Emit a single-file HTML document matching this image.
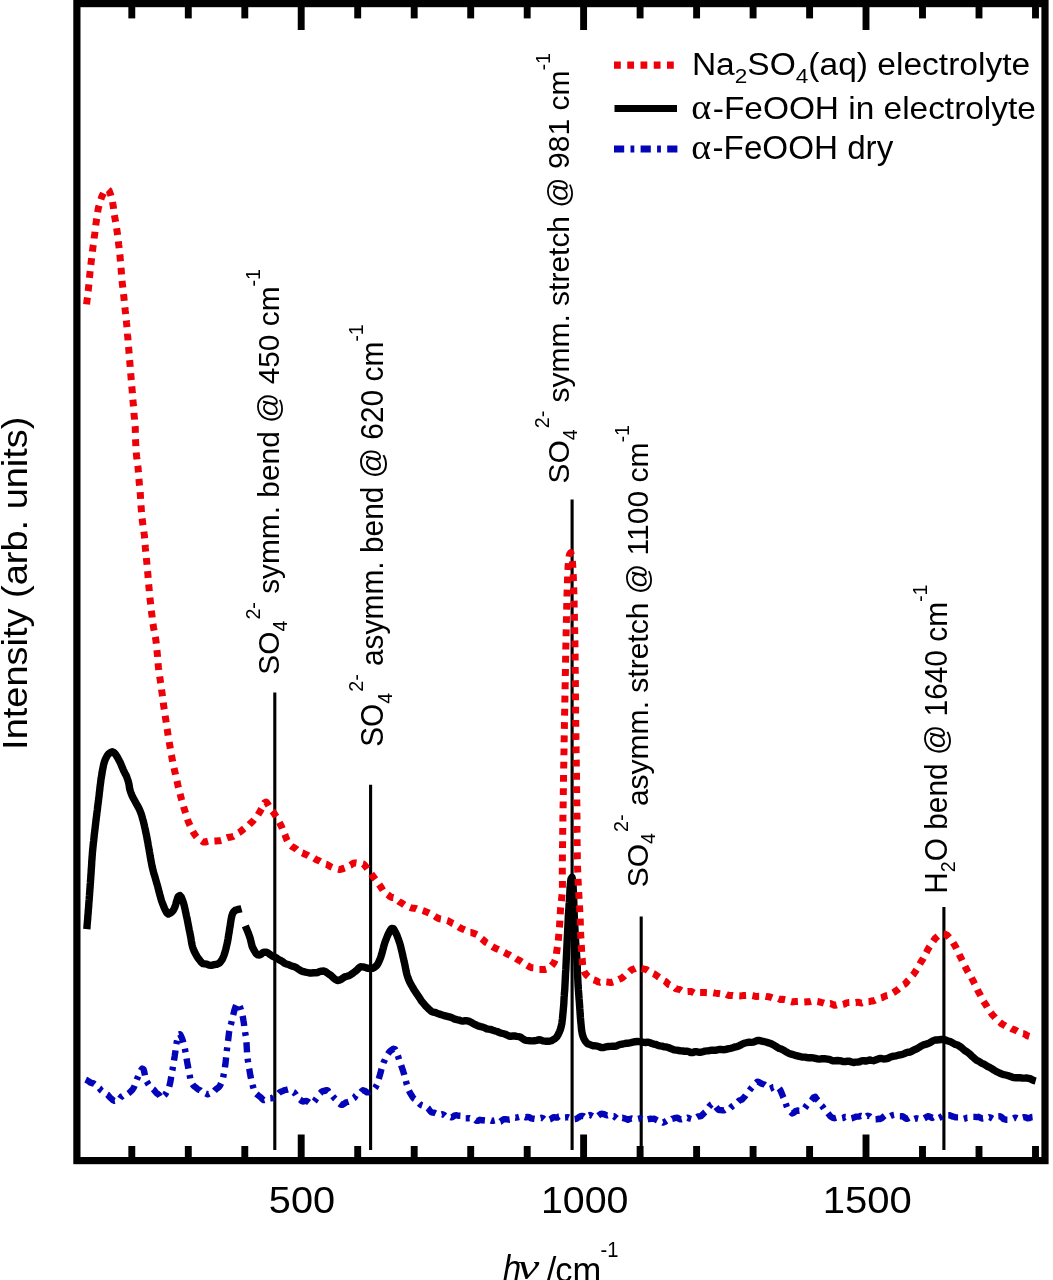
<!DOCTYPE html>
<html><head><meta charset="utf-8"><title>Raman spectra</title>
<style>
html,body{margin:0;padding:0;background:#fff;width:1053px;height:1280px;overflow:hidden}
svg{display:block}
text{font-family:"Liberation Sans",Arial,sans-serif;fill:#000}
.al{font-family:"Liberation Serif","DejaVu Serif",serif}
.ng{font-family:"Liberation Sans",Arial,sans-serif}
</style></head>
<body>
<svg width="1053" height="1280" viewBox="0 0 1053 1280">
<rect width="1053" height="1280" fill="#fff"/>
<rect x="76.9" y="3.6" width="968.1" height="1157" fill="none" stroke="#000" stroke-width="7.2"/>
<line x1="131.8" y1="1158" x2="131.8" y2="1146" stroke="#000" stroke-width="6.9"/>
<line x1="131.8" y1="5" x2="131.8" y2="18.4" stroke="#000" stroke-width="6.9"/>
<line x1="188.3" y1="1158" x2="188.3" y2="1146" stroke="#000" stroke-width="6.9"/>
<line x1="188.3" y1="5" x2="188.3" y2="18.4" stroke="#000" stroke-width="6.9"/>
<line x1="244.8" y1="1158" x2="244.8" y2="1146" stroke="#000" stroke-width="6.9"/>
<line x1="244.8" y1="5" x2="244.8" y2="18.4" stroke="#000" stroke-width="6.9"/>
<line x1="301.2" y1="1158" x2="301.2" y2="1134.5" stroke="#000" stroke-width="6.9"/>
<line x1="301.2" y1="5" x2="301.2" y2="30" stroke="#000" stroke-width="6.9"/>
<line x1="357.7" y1="1158" x2="357.7" y2="1146" stroke="#000" stroke-width="6.9"/>
<line x1="357.7" y1="5" x2="357.7" y2="18.4" stroke="#000" stroke-width="6.9"/>
<line x1="414.2" y1="1158" x2="414.2" y2="1146" stroke="#000" stroke-width="6.9"/>
<line x1="414.2" y1="5" x2="414.2" y2="18.4" stroke="#000" stroke-width="6.9"/>
<line x1="470.7" y1="1158" x2="470.7" y2="1146" stroke="#000" stroke-width="6.9"/>
<line x1="470.7" y1="5" x2="470.7" y2="18.4" stroke="#000" stroke-width="6.9"/>
<line x1="527.2" y1="1158" x2="527.2" y2="1146" stroke="#000" stroke-width="6.9"/>
<line x1="527.2" y1="5" x2="527.2" y2="18.4" stroke="#000" stroke-width="6.9"/>
<line x1="583.6" y1="1158" x2="583.6" y2="1134.5" stroke="#000" stroke-width="6.9"/>
<line x1="583.6" y1="5" x2="583.6" y2="30" stroke="#000" stroke-width="6.9"/>
<line x1="640.1" y1="1158" x2="640.1" y2="1146" stroke="#000" stroke-width="6.9"/>
<line x1="640.1" y1="5" x2="640.1" y2="18.4" stroke="#000" stroke-width="6.9"/>
<line x1="696.6" y1="1158" x2="696.6" y2="1146" stroke="#000" stroke-width="6.9"/>
<line x1="696.6" y1="5" x2="696.6" y2="18.4" stroke="#000" stroke-width="6.9"/>
<line x1="753.1" y1="1158" x2="753.1" y2="1146" stroke="#000" stroke-width="6.9"/>
<line x1="753.1" y1="5" x2="753.1" y2="18.4" stroke="#000" stroke-width="6.9"/>
<line x1="809.6" y1="1158" x2="809.6" y2="1146" stroke="#000" stroke-width="6.9"/>
<line x1="809.6" y1="5" x2="809.6" y2="18.4" stroke="#000" stroke-width="6.9"/>
<line x1="866.0" y1="1158" x2="866.0" y2="1134.5" stroke="#000" stroke-width="6.9"/>
<line x1="866.0" y1="5" x2="866.0" y2="30" stroke="#000" stroke-width="6.9"/>
<line x1="922.5" y1="1158" x2="922.5" y2="1146" stroke="#000" stroke-width="6.9"/>
<line x1="922.5" y1="5" x2="922.5" y2="18.4" stroke="#000" stroke-width="6.9"/>
<line x1="979.0" y1="1158" x2="979.0" y2="1146" stroke="#000" stroke-width="6.9"/>
<line x1="979.0" y1="5" x2="979.0" y2="18.4" stroke="#000" stroke-width="6.9"/>
<line x1="1035.5" y1="1158" x2="1035.5" y2="1146" stroke="#000" stroke-width="6.9"/>
<line x1="1035.5" y1="5" x2="1035.5" y2="18.4" stroke="#000" stroke-width="6.9"/>
<g transform="matrix(1.1035 0 0 1.0231 -31.46 -28.32)"><text id="t500" class="ng" x="302.2" y="1213.5" font-size="36" text-anchor="middle">500</text></g>
<g transform="matrix(1.0934 0 0 1.0231 -58.18 -28.52)"><text id="t1000" class="ng" x="588" y="1213.5" font-size="36" text-anchor="middle">1000</text></g>
<g transform="matrix(1.1118 0 0 1.0115 -98.04 -14.41)"><text id="t1500" class="ng" x="868.2" y="1213.5" font-size="36" text-anchor="middle">1500</text></g>
<g transform="matrix(1.0000 0 0 1.0697 0.00 -49.16)"><text id="ylab" class="ng" transform="translate(27,747) rotate(-90)" font-size="35.5">Intensity (arb. units)</text></g>
<g transform="matrix(0.9059 0 0 1.0000 47.44 0.10)"><text id="xl_h" x="503" y="1280.4" font-size="36" font-style="italic">h</text></g>
<g transform="matrix(1.3667 0 0 1.0000 -193.23 -1.00)"><text id="xl_nu" class="al" x="520" y="1280.4" font-size="36" font-style="italic">&#957;</text></g>
<g transform="matrix(0.9800 0 0 1.0000 14.36 1.40)"><text id="xl_sl" x="543" y="1280.4" font-size="36">/</text></g>
<g transform="matrix(0.9591 0 0 1.0000 20.97 1.30)"><text id="xl_cm" x="557" y="1280.4" font-size="36">cm</text></g>
<g transform="matrix(0.9176 0 0 1.0400 49.08 -50.18)"><text id="xl_sup" x="601" y="1257.1" font-size="22">-1</text></g>
<line x1="274.8" y1="692.4" x2="274.8" y2="1150" stroke="#000" stroke-width="3.1"/>
<line x1="370.6" y1="784.8" x2="370.6" y2="1150" stroke="#000" stroke-width="3.1"/>
<line x1="572.1" y1="499.5" x2="572.1" y2="1150" stroke="#000" stroke-width="3.1"/>
<line x1="641.2" y1="916.5" x2="641.2" y2="1150" stroke="#000" stroke-width="3.1"/>
<line x1="943.9" y1="907" x2="943.9" y2="1150" stroke="#000" stroke-width="3.1"/>
<g transform="matrix(1.0333 0 0 1.0301 -11.73 -18.30)"><text id="a450" transform="translate(281.5,672.7) rotate(-90)" font-size="29">SO<tspan font-size="19" dy="7.6">4</tspan><tspan font-size="19" dx="1" dy="-26.6">2-</tspan><tspan dy="19"> symm. bend @ 450 cm</tspan><tspan font-size="19" dy="-18.5">-1</tspan></text></g>
<g transform="matrix(1.0859 0 0 1.0311 -33.49 -22.79)"><text id="a620" transform="translate(383.8,746.4) rotate(-90)" font-size="29">SO<tspan font-size="19" dy="7.6">4</tspan><tspan font-size="19" dx="1" dy="-26.6">2-</tspan><tspan dy="19"> asymm. bend @ 620 cm</tspan><tspan font-size="19" dy="-18.5">-1</tspan></text></g>
<g transform="matrix(1.0325 0 0 1.0341 -20.62 -15.18)"><text id="a981" transform="translate(571,482.3) rotate(-90)" font-size="29">SO<tspan font-size="19" dy="7.6">4</tspan><tspan font-size="19" dx="1" dy="-26.6">2-</tspan><tspan dy="19"> symm. stretch @ 981 cm</tspan><tspan font-size="19" dy="-18.5">-1</tspan></text></g>
<g transform="matrix(1.0300 0 0 1.0354 -22.87 -29.66)"><text id="a1100" transform="translate(651,885.6) rotate(-90)" font-size="29">SO<tspan font-size="19" dy="7.6">4</tspan><tspan font-size="19" dx="1" dy="-26.6">2-</tspan><tspan dy="19"> asymm. stretch @ 1100 cm</tspan><tspan font-size="19" dy="-18.5">-1</tspan></text></g>
<g transform="matrix(1.0846 0 0 1.0302 -79.32 -25.18)"><text id="a1640" transform="translate(946.4,892) rotate(-90)" font-size="29">H<tspan font-size="19" dy="7.6">2</tspan><tspan dy="-7.6">O bend @ 1640 cm</tspan><tspan font-size="19" dy="-18.5">-1</tspan></text></g>
<line x1="614" y1="65.2" x2="675" y2="65.2" stroke="#ee0008" stroke-width="7.2" stroke-dasharray="6.8 6.45"/>
<line x1="614.5" y1="108.5" x2="677" y2="108.5" stroke="#000" stroke-width="7"/>
<line x1="614" y1="149" x2="678" y2="149" stroke="#0404b8" stroke-width="7.2" stroke-dasharray="10.2 6.3 3.8 6.3"/>
<g transform="matrix(1.1571 0 0 1.0633 -111.14 -5.06)"><text id="lg1" x="694" y="75.1" font-size="29">Na<tspan font-size="19.5" dy="7.6">2</tspan><tspan dy="-7.6">SO</tspan><tspan font-size="19.5" dy="7.6">4</tspan><tspan dy="-7.6">(aq) electrolyte</tspan></text></g>
<g transform="matrix(1.1529 0 0 1.1000 -106.93 -10.60)"><text id="lg2" x="692.3" y="117.9" font-size="29"><tspan class="al" font-size="33">&#945;</tspan><tspan dx="1.4">-FeOOH in electrolyte</tspan></text></g>
<g transform="matrix(1.1443 0 0 1.1143 -101.01 -15.43)"><text id="lg3" x="692.3" y="156.8" font-size="29"><tspan class="al" font-size="33">&#945;</tspan><tspan dx="1.4">-FeOOH dry</tspan></text></g>
<path d="M85.7,1079.7 L87.2,1080.4 L88.8,1081.4 L90.4,1082.5 L91.9,1083.2 L93.4,1083.2 L94.8,1084.3 L96.3,1086.3 L97.8,1087.0 L99.4,1088.2 L100.8,1090.1 L102.2,1091.2 L103.6,1092.3 L104.9,1093.3 L106.3,1094.0 L107.7,1094.8 L109.0,1096.4 L110.4,1097.9 L111.6,1098.9 L112.9,1100.1 L114.4,1100.8 L116.1,1100.5 L117.6,1100.9 L118.9,1099.9 L120.2,1098.0 L121.3,1096.7 L122.5,1096.1 L123.6,1095.2 L125.1,1094.5 L126.6,1094.2 L128.3,1093.5 L129.9,1092.3 L131.4,1090.8 L132.7,1089.3 L133.7,1087.8 L134.4,1086.2 L135.1,1084.4 L135.7,1082.6 L136.2,1081.0 L136.8,1079.4 L137.5,1078.0 L138.3,1076.2 L139.0,1074.6 L139.7,1073.1 L140.4,1071.6 L141.2,1070.0 L142.2,1068.5 L143.5,1069.2 L144.0,1070.7 L144.3,1072.3 L144.7,1074.0 L145.0,1075.6 L145.4,1077.6 L145.8,1079.4 L146.5,1081.0 L147.4,1082.4 L148.4,1084.3 L149.6,1086.1 L150.7,1087.3 L152.0,1088.3 L153.2,1089.2 L154.4,1090.5 L155.6,1092.0 L156.7,1093.3 L157.9,1093.9 L159.1,1094.9 L160.4,1097.3 L162.0,1098.0 L163.6,1096.1 L164.8,1095.0 L165.8,1093.6 L166.7,1091.9 L167.6,1090.5 L168.4,1089.0 L169.0,1087.4 L169.5,1085.5 L169.9,1083.9 L170.3,1082.2 L170.6,1080.4 L170.9,1078.8 L171.1,1077.2 L171.4,1075.4 L171.7,1073.6 L172.0,1071.9 L172.4,1070.1 L172.7,1068.3 L173.0,1066.6 L173.3,1064.9 L173.6,1063.1 L173.8,1061.5 L174.1,1059.7 L174.4,1057.9 L174.7,1056.2 L174.9,1054.4 L175.2,1052.9 L175.4,1051.2 L175.6,1049.6 L175.8,1047.9 L176.1,1046.3 L176.3,1044.6 L176.6,1042.9 L176.9,1041.2 L177.3,1039.5 L177.7,1037.6 L178.1,1036.0 L178.7,1034.5 L180.0,1034.2 L180.8,1035.6 L181.5,1037.1 L182.2,1038.8 L182.8,1040.7 L183.3,1042.5 L183.8,1044.1 L184.3,1045.8 L184.7,1047.5 L185.0,1049.2 L185.3,1051.0 L185.6,1052.8 L185.9,1054.6 L186.1,1056.4 L186.5,1058.1 L186.8,1059.9 L187.1,1061.7 L187.4,1063.5 L187.8,1065.3 L188.1,1067.1 L188.4,1068.7 L188.8,1070.4 L189.1,1072.1 L189.4,1073.8 L189.7,1075.4 L190.0,1077.0 L190.3,1078.8 L190.7,1080.4 L191.2,1081.9 L192.0,1083.5 L193.0,1085.0 L194.2,1086.3 L195.5,1087.2 L197.0,1088.5 L198.5,1089.6 L200.0,1090.2 L201.3,1091.6 L202.8,1092.9 L204.2,1092.9 L205.8,1093.5 L207.6,1094.4 L209.3,1093.5 L211.0,1092.5 L212.6,1092.4 L213.9,1091.6 L215.3,1089.9 L216.5,1088.8 L217.7,1088.1 L218.9,1087.1 L220.0,1085.6 L220.8,1084.0 L221.6,1082.2 L222.2,1080.6 L222.7,1079.2 L223.1,1077.5 L223.5,1075.7 L223.8,1073.8 L224.2,1072.0 L224.5,1070.2 L224.8,1068.4 L225.0,1066.7 L225.3,1064.9 L225.5,1063.1 L225.7,1061.3 L225.9,1059.5 L226.1,1057.7 L226.3,1055.9 L226.4,1054.2 L226.6,1052.4 L226.8,1050.7 L227.0,1049.1 L227.2,1047.5 L227.4,1045.7 L227.6,1043.9 L227.8,1042.1 L228.1,1040.4 L228.3,1038.8 L228.5,1037.1 L228.7,1035.4 L228.9,1033.7 L229.1,1032.1 L229.4,1030.5 L229.8,1028.8 L230.2,1027.1 L230.6,1025.4 L231.1,1023.6 L231.5,1022.0 L231.9,1020.3 L232.3,1018.5 L232.8,1016.6 L233.2,1014.8 L233.7,1013.0 L234.2,1011.2 L234.6,1009.5 L235.2,1007.8 L235.7,1006.3 L236.4,1004.8 L237.3,1003.2 L238.7,1004.4 L239.5,1005.9 L240.1,1007.3 L240.7,1009.0 L241.2,1010.8 L241.7,1012.4 L242.1,1013.8 L242.6,1015.6 L242.9,1017.3 L243.2,1019.1 L243.5,1021.0 L243.8,1022.6 L244.0,1024.1 L244.2,1026.0 L244.5,1027.7 L244.7,1029.3 L245.0,1030.9 L245.2,1032.8 L245.5,1034.5 L245.8,1036.1 L246.0,1037.8 L246.2,1039.5 L246.4,1041.3 L246.5,1043.0 L246.6,1044.8 L246.7,1046.6 L246.8,1048.4 L246.9,1050.2 L247.0,1052.0 L247.1,1053.8 L247.3,1055.5 L247.5,1057.3 L247.7,1059.0 L247.9,1060.7 L248.2,1062.4 L248.4,1064.1 L248.7,1065.8 L249.0,1067.6 L249.3,1069.3 L249.6,1071.0 L249.9,1072.7 L250.2,1074.5 L250.5,1076.3 L250.9,1078.1 L251.3,1079.9 L251.8,1081.7 L252.2,1083.4 L252.6,1085.1 L253.1,1086.9 L253.6,1088.6 L254.2,1090.2 L254.9,1091.9 L255.7,1093.3 L256.9,1094.4 L258.0,1095.2 L259.3,1096.2 L260.6,1097.2 L262.1,1098.9 L263.7,1100.1 L265.3,1099.6 L267.0,1098.5 L268.6,1098.3 L270.1,1098.3 L271.5,1098.2 L273.1,1097.5 L274.6,1096.5 L276.1,1095.7 L277.4,1094.6 L278.8,1093.1 L280.2,1092.0 L281.5,1091.5 L283.0,1090.9 L284.6,1090.1 L286.2,1089.9 L288.0,1089.4 L289.7,1089.5 L291.3,1090.8 L292.8,1091.7 L294.0,1092.3 L295.3,1093.8 L296.3,1095.4 L297.6,1097.4 L298.8,1098.8 L300.2,1099.6 L301.6,1100.9 L303.2,1101.5 L304.7,1101.1 L306.4,1101.0 L308.1,1101.7 L309.9,1103.1 L311.7,1103.6 L313.3,1102.7 L314.7,1101.0 L315.8,1099.3 L316.8,1097.9 L317.8,1096.2 L319.0,1094.4 L320.3,1093.2 L321.7,1091.6 L323.1,1091.0 L324.7,1091.1 L326.4,1090.1 L327.9,1090.6 L329.2,1092.6 L330.3,1094.4 L331.5,1095.1 L332.7,1096.1 L334.1,1097.8 L335.5,1099.1 L336.7,1100.6 L338.0,1102.2 L339.5,1103.6 L340.9,1104.7 L342.7,1104.7 L344.3,1103.6 L346.0,1102.4 L347.6,1102.0 L349.1,1101.5 L350.6,1100.1 L351.9,1098.9 L353.3,1098.5 L354.6,1097.6 L355.8,1095.5 L357.0,1094.4 L358.5,1094.1 L359.9,1093.4 L361.4,1091.6 L363.0,1090.3 L364.8,1090.8 L366.6,1092.2 L368.2,1092.4 L369.9,1091.2 L371.6,1090.3 L373.2,1089.7 L374.6,1088.6 L375.6,1087.3 L376.3,1085.9 L377.0,1084.5 L377.6,1082.8 L378.2,1081.1 L378.6,1079.5 L379.1,1077.8 L379.5,1076.2 L380.0,1074.6 L380.5,1072.9 L380.9,1071.2 L381.3,1069.6 L381.8,1067.9 L382.3,1066.3 L382.9,1064.5 L383.5,1062.7 L384.1,1061.4 L384.8,1060.0 L385.5,1058.2 L386.3,1056.6 L387.2,1055.2 L388.2,1053.6 L389.4,1051.8 L390.6,1050.7 L392.0,1049.8 L393.5,1048.7 L395.1,1049.3 L396.2,1051.4 L396.9,1052.9 L397.4,1054.3 L398.0,1055.9 L398.5,1057.7 L399.0,1059.4 L399.5,1060.9 L400.1,1062.4 L400.7,1063.8 L401.2,1065.4 L401.8,1067.1 L402.4,1068.9 L403.0,1070.6 L403.5,1072.3 L404.0,1073.9 L404.4,1075.5 L404.9,1077.2 L405.3,1079.1 L405.8,1080.6 L406.2,1082.2 L406.6,1083.8 L407.1,1085.4 L407.6,1087.1 L408.2,1088.6 L408.8,1090.1 L409.6,1091.9 L410.4,1093.4 L411.2,1094.7 L412.2,1096.4 L413.3,1098.0 L414.4,1098.9 L415.5,1099.6 L416.8,1100.9 L418.3,1102.6 L419.8,1104.1 L421.3,1105.2 L422.7,1105.7 L424.1,1105.6 L425.5,1106.2 L426.9,1107.3 L428.3,1108.5 L429.7,1110.5 L431.2,1112.2 L432.7,1112.6 L434.3,1112.7 L435.8,1113.4 L437.3,1113.6 L438.9,1114.1 L440.5,1114.8 L442.3,1114.2 L444.0,1114.9 L445.8,1116.5 L447.6,1116.5 L449.4,1116.5 L451.2,1117.3 L453.0,1116.8 L454.8,1115.4 L456.6,1115.3 L458.3,1115.8 L460.0,1115.6 L461.8,1115.7 L463.4,1117.2 L464.9,1118.4 L466.4,1118.4 L468.0,1118.3 L469.5,1118.1 L471.3,1118.8 L473.0,1119.4 L474.7,1119.5 L476.4,1120.9 L478.3,1120.8 L479.9,1119.8 L481.5,1120.2 L483.1,1120.3 L485.0,1120.5 L486.7,1120.3 L488.4,1119.6 L490.1,1120.1 L491.9,1120.8 L493.6,1120.7 L495.3,1120.3 L496.9,1121.3 L498.6,1122.2 L500.5,1121.6 L502.1,1120.2 L503.7,1119.3 L505.4,1119.2 L507.2,1119.4 L509.0,1119.7 L510.6,1119.5 L512.1,1118.3 L513.9,1117.4 L515.7,1117.7 L517.3,1117.3 L519.1,1116.8 L520.8,1117.7 L522.7,1117.3 L524.4,1116.8 L526.0,1117.4 L527.6,1116.9 L529.3,1117.1 L531.1,1118.4 L532.7,1118.7 L534.4,1118.8 L536.1,1119.1 L537.9,1118.8 L539.6,1118.3 L541.4,1117.8 L543.2,1118.3 L545.0,1119.9 L546.7,1120.4 L548.4,1119.9 L550.2,1119.3 L552.0,1118.1 L553.8,1117.1 L555.6,1117.5 L557.3,1117.5 L559.0,1116.4 L560.7,1116.1 L562.6,1116.8 L564.4,1117.5 L566.2,1117.4 L568.0,1117.2 L569.7,1117.9 L571.4,1118.9 L573.1,1119.3 L574.9,1119.1 L576.7,1118.7 L578.4,1117.5 L580.1,1116.4 L581.9,1115.9 L583.6,1116.2 L585.3,1117.6 L587.1,1117.3 L588.7,1115.7 L590.3,1115.0 L591.9,1115.8 L593.7,1116.8 L595.5,1117.0 L597.2,1116.5 L598.8,1115.3 L600.6,1114.0 L602.3,1113.8 L604.1,1114.2 L605.7,1115.0 L607.3,1115.4 L609.0,1114.9 L610.9,1115.5 L612.5,1116.3 L614.1,1116.3 L615.8,1117.7 L617.4,1119.2 L619.1,1118.9 L620.8,1117.9 L622.5,1117.8 L624.3,1118.3 L626.1,1119.0 L627.9,1119.7 L629.7,1119.0 L631.5,1118.5 L633.3,1119.1 L635.0,1119.1 L636.8,1119.2 L638.5,1118.8 L640.3,1118.2 L642.1,1119.3 L643.8,1119.9 L645.6,1119.5 L647.3,1119.4 L649.1,1119.0 L650.8,1118.8 L652.6,1118.9 L654.4,1118.8 L656.1,1119.8 L657.9,1120.7 L659.6,1120.7 L661.4,1121.3 L663.2,1122.5 L664.9,1121.8 L666.7,1120.6 L668.5,1120.9 L670.3,1120.3 L672.1,1118.8 L673.9,1118.4 L675.6,1117.9 L677.4,1117.6 L679.1,1118.8 L680.7,1119.4 L682.6,1118.8 L684.2,1119.1 L685.8,1118.6 L687.7,1117.7 L689.4,1118.5 L691.2,1119.0 L692.8,1119.1 L694.6,1118.6 L696.2,1117.5 L697.9,1116.5 L699.5,1116.4 L701.0,1116.1 L702.5,1114.7 L704.0,1113.1 L705.4,1111.9 L706.5,1110.3 L707.7,1108.4 L708.9,1106.8 L710.1,1105.6 L711.4,1104.3 L712.8,1103.5 L714.3,1104.8 L715.6,1106.4 L716.6,1107.7 L717.7,1109.1 L718.9,1110.1 L720.5,1110.1 L722.3,1110.3 L723.9,1110.4 L725.7,1109.1 L727.2,1108.5 L728.8,1108.9 L730.3,1108.2 L731.9,1106.5 L733.4,1105.5 L735.0,1104.9 L736.5,1103.8 L737.8,1102.1 L739.3,1100.5 L740.7,1100.0 L742.0,1099.5 L743.3,1098.1 L744.5,1096.8 L745.6,1095.4 L746.6,1093.9 L747.6,1092.6 L748.8,1091.3 L750.0,1089.7 L751.2,1088.2 L752.3,1086.9 L753.4,1085.9 L754.6,1084.8 L756.0,1083.0 L757.4,1081.7 L759.1,1082.1 L760.9,1083.3 L762.5,1084.0 L764.0,1084.4 L765.4,1085.4 L766.9,1086.4 L768.2,1087.3 L769.7,1088.8 L771.3,1088.2 L773.0,1087.1 L774.5,1086.9 L776.2,1086.5 L777.8,1087.2 L779.1,1088.4 L780.0,1089.5 L780.9,1091.3 L781.6,1093.1 L782.3,1094.7 L782.9,1096.3 L783.6,1097.8 L784.3,1099.4 L784.9,1101.0 L785.5,1102.5 L786.0,1104.1 L786.6,1106.0 L787.2,1107.6 L788.1,1108.7 L789.3,1109.8 L790.6,1111.8 L792.3,1113.5 L793.9,1112.7 L795.6,1111.0 L797.3,1110.5 L799.0,1110.8 L800.8,1110.6 L802.2,1110.1 L803.4,1109.5 L804.4,1108.8 L805.3,1107.5 L806.2,1106.0 L807.1,1104.8 L808.2,1103.5 L809.4,1102.4 L810.7,1101.4 L812.0,1099.8 L813.5,1097.4 L815.2,1096.8 L816.6,1098.9 L817.8,1100.2 L818.8,1101.2 L819.6,1102.7 L820.6,1104.5 L821.6,1105.6 L822.7,1106.7 L823.7,1108.3 L824.9,1110.1 L826.0,1111.6 L827.3,1112.5 L828.6,1114.1 L830.0,1115.9 L831.4,1117.0 L833.0,1117.8 L834.5,1118.2 L836.2,1117.7 L837.9,1117.1 L839.7,1117.5 L841.6,1118.3 L843.2,1118.0 L844.8,1116.9 L846.6,1117.1 L848.4,1118.2 L850.2,1118.7 L852.0,1118.3 L853.8,1117.6 L855.6,1116.8 L857.3,1116.6 L859.1,1116.5 L860.9,1115.9 L862.6,1116.4 L864.2,1117.6 L866.0,1117.0 L867.8,1115.7 L869.6,1116.3 L871.3,1118.0 L873.0,1118.8 L874.7,1119.4 L876.4,1119.3 L878.2,1118.8 L879.9,1119.0 L881.6,1118.3 L883.3,1116.8 L884.9,1115.6 L886.6,1114.9 L888.4,1115.6 L890.2,1116.2 L892.0,1115.3 L893.6,1114.9 L895.3,1114.6 L897.0,1115.1 L898.7,1116.4 L900.5,1116.4 L902.2,1116.1 L904.0,1117.1 L905.8,1118.7 L907.5,1118.7 L909.3,1117.6 L911.0,1118.3 L912.8,1119.5 L914.6,1118.8 L916.4,1118.3 L918.2,1118.7 L919.9,1119.0 L921.6,1119.1 L923.3,1118.9 L925.1,1117.9 L926.7,1116.7 L928.5,1116.1 L930.3,1116.9 L932.1,1117.9 L933.8,1116.9 L935.5,1117.0 L937.1,1118.2 L938.9,1118.0 L940.5,1117.3 L942.0,1116.1 L943.5,1115.1 L945.1,1115.0 L946.8,1115.3 L948.3,1115.3 L950.0,1115.3 L951.6,1116.1 L953.1,1116.6 L954.6,1116.9 L956.0,1117.4 L957.8,1117.4 L959.5,1117.4 L961.3,1118.6 L963.0,1119.2 L964.8,1118.7 L966.6,1117.8 L968.4,1117.7 L970.1,1118.2 L971.7,1117.9 L973.3,1116.9 L975.1,1116.9 L976.8,1117.1 L978.5,1116.8 L980.3,1117.8 L982.2,1118.5 L984.0,1118.2 L985.8,1118.3 L987.6,1118.0 L989.4,1117.1 L991.1,1117.8 L992.8,1118.8 L994.7,1118.0 L996.5,1117.0 L998.3,1116.4 L1000.1,1116.3 L1001.8,1117.3 L1003.5,1119.0 L1005.2,1119.6 L1006.9,1119.8 L1008.6,1119.8 L1010.4,1119.3 L1012.2,1118.9 L1014.0,1118.0 L1015.7,1117.7 L1017.4,1118.6 L1019.1,1119.1 L1020.8,1118.4 L1022.5,1117.6 L1024.1,1117.2 L1025.9,1117.4 L1027.6,1118.3 L1029.4,1118.1 L1031.0,1117.2 L1032.8,1117.0 L1034.5,1116.4 L1035.6,1116.7" fill="none" stroke="#0404b8" stroke-width="6.4" stroke-dasharray="10.2 6.3 3.8 6.3" stroke-linejoin="round"/>
<path d="M86.8,929.2 L87.0,927.2 L87.1,925.1 L87.3,923.0 L87.5,921.0 L87.7,918.8 L87.8,916.5 L88.0,914.5 L88.2,912.4 L88.3,910.3 L88.5,908.3 L88.7,906.1 L88.8,903.9 L89.0,901.7 L89.2,899.5 L89.3,897.3 L89.5,895.3 L89.6,893.2 L89.8,891.2 L89.9,889.1 L90.1,887.1 L90.2,885.0 L90.4,883.0 L90.5,880.9 L90.7,878.9 L90.8,876.9 L90.9,874.9 L91.1,872.9 L91.2,870.9 L91.3,868.9 L91.5,866.9 L91.6,864.9 L91.7,862.9 L91.8,860.9 L92.0,858.9 L92.1,856.9 L92.3,854.9 L92.4,852.9 L92.6,850.9 L92.8,848.8 L93.0,846.8 L93.2,844.8 L93.4,842.7 L93.7,840.7 L93.9,838.6 L94.1,836.6 L94.3,834.5 L94.6,832.5 L94.8,830.5 L95.1,828.3 L95.3,826.2 L95.6,824.0 L95.8,821.9 L96.1,819.8 L96.3,817.8 L96.6,815.8 L96.8,813.8 L97.1,811.6 L97.4,809.4 L97.6,807.2 L97.9,805.0 L98.2,802.8 L98.5,800.5 L98.7,798.5 L99.0,796.5 L99.2,794.4 L99.4,792.4 L99.7,790.3 L99.9,788.2 L100.1,786.2 L100.4,784.2 L100.7,782.0 L100.9,779.8 L101.3,777.8 L101.6,775.8 L102.0,773.5 L102.3,771.3 L102.7,769.2 L103.1,767.2 L103.5,765.2 L104.0,763.1 L104.7,761.0 L105.4,759.1 L106.5,757.0 L107.6,755.1 L108.8,753.7 L110.5,752.5 L112.4,751.8 L114.1,752.6 L115.5,754.2 L116.6,756.0 L117.7,757.8 L118.8,759.9 L119.8,761.7 L120.7,763.6 L121.5,765.6 L122.3,767.5 L123.1,769.4 L124.0,771.4 L125.0,773.4 L125.9,775.1 L126.8,777.1 L127.5,779.1 L128.2,781.2 L128.7,783.1 L129.1,785.1 L129.4,787.2 L129.8,789.2 L130.4,791.4 L131.1,793.4 L131.9,795.3 L132.8,797.2 L133.9,799.2 L135.0,801.2 L135.9,802.9 L137.0,804.9 L138.1,806.9 L139.1,808.8 L140.0,810.8 L140.7,812.6 L141.4,814.5 L142.0,816.5 L142.6,818.7 L143.2,820.7 L143.7,822.8 L144.2,824.8 L144.6,826.8 L145.1,828.8 L145.5,830.9 L146.0,833.1 L146.4,835.1 L146.8,837.1 L147.2,839.2 L147.6,841.3 L148.0,843.4 L148.3,845.4 L148.7,847.6 L149.1,849.6 L149.4,851.6 L149.8,853.7 L150.1,855.7 L150.5,857.7 L150.8,859.8 L151.2,861.8 L151.6,863.9 L152.0,866.0 L152.5,868.0 L153.0,870.1 L153.5,872.1 L154.1,874.3 L154.8,876.3 L155.4,878.4 L156.0,880.6 L156.6,882.7 L157.2,884.8 L157.8,886.8 L158.3,888.8 L158.8,890.8 L159.3,892.8 L159.9,894.9 L160.4,896.8 L161.0,898.9 L161.6,900.9 L162.4,903.1 L163.2,905.1 L163.9,907.0 L164.7,908.8 L165.6,910.7 L166.8,912.8 L168.4,914.1 L170.4,913.0 L172.1,911.7 L173.3,910.3 L174.3,908.4 L175.1,906.5 L175.7,904.5 L176.3,902.3 L176.9,900.3 L177.5,898.3 L178.3,896.4 L179.9,895.5 L181.3,897.2 L182.1,899.1 L182.9,901.2 L183.5,903.1 L184.1,905.2 L184.6,907.3 L185.1,909.4 L185.5,911.6 L186.0,913.6 L186.4,915.7 L186.9,917.9 L187.3,919.8 L187.7,921.9 L188.1,923.9 L188.5,926.0 L188.9,928.2 L189.3,930.2 L189.8,932.4 L190.2,934.5 L190.6,936.5 L191.0,938.7 L191.3,940.8 L191.7,943.0 L192.1,945.0 L192.6,947.1 L193.3,949.1 L194.1,951.0 L195.1,953.0 L196.1,954.9 L197.2,956.7 L198.3,958.4 L199.7,960.1 L201.1,962.0 L202.8,963.6 L204.7,963.9 L206.8,964.2 L209.0,965.1 L211.2,965.4 L213.3,964.9 L215.5,964.4 L217.4,964.2 L219.4,963.0 L221.0,961.2 L222.2,959.5 L223.1,957.5 L223.9,955.5 L224.6,953.5 L225.2,951.4 L225.8,949.2 L226.3,947.1 L226.8,945.0 L227.3,942.7 L227.7,940.7 L228.1,938.6 L228.4,936.5 L228.7,934.5 L229.1,932.5 L229.4,930.3 L229.7,928.3 L230.1,926.3 L230.4,924.1 L230.7,922.0 L231.0,920.0 L231.4,917.9 L231.9,915.6 L232.6,913.6 L233.6,911.9 L235.2,910.3 L237.2,909.7 L239.4,909.2 L241.5,908.6" fill="none" stroke="#000" stroke-width="7.4" stroke-linejoin="round"/>
<path d="M245.3,925.9 L246.2,928.0 L247.0,929.9 L247.9,932.0 L248.6,933.9 L249.4,936.0 L250.1,938.1 L250.6,940.1 L251.1,942.2 L251.6,944.3 L252.1,946.2 L252.9,948.1 L253.8,949.8 L254.9,951.6 L256.1,953.5 L257.6,954.9 L259.5,955.1 L261.1,954.2 L262.6,952.9 L264.2,952.1 L266.3,952.2 L268.0,952.9 L269.8,954.3 L271.6,955.5 L273.3,956.5 L275.1,957.2 L277.0,958.3 L278.8,959.7 L280.6,960.5 L282.4,961.5 L284.4,963.1 L286.3,964.0 L288.3,964.5 L290.2,965.4 L292.1,966.2 L294.1,966.6 L295.9,967.4 L297.8,968.7 L299.7,970.0 L301.5,971.0 L303.4,971.7 L305.4,972.1 L307.2,972.5 L309.3,973.0 L311.5,973.0 L313.5,972.8 L315.6,972.8 L317.6,972.5 L319.5,971.7 L321.5,971.2 L323.7,971.0 L325.6,971.7 L327.3,973.1 L329.0,974.3 L330.7,975.3 L332.3,976.8 L333.9,978.3 L335.6,979.6 L337.4,980.6 L339.4,980.2 L341.1,979.4 L342.9,978.2 L344.8,976.9 L346.9,976.3 L348.8,975.7 L350.7,974.7 L352.7,973.4 L354.4,972.0 L356.0,970.9 L357.5,969.5 L359.0,967.9 L360.6,966.8 L362.6,966.9 L364.5,967.2 L366.4,967.9 L368.3,968.4 L370.3,968.7 L372.4,968.4 L374.3,967.4 L375.9,966.3 L377.3,964.7 L378.4,962.7 L379.4,960.5 L380.3,958.4 L381.0,956.4 L381.6,954.3 L382.2,952.4 L382.7,950.3 L383.3,948.2 L383.8,946.1 L384.4,944.1 L385.1,941.9 L385.9,939.9 L386.7,937.8 L387.5,935.7 L388.4,933.8 L389.2,932.1 L390.2,930.4 L391.6,928.4 L393.4,928.7 L394.6,930.7 L395.6,932.5 L396.5,934.3 L397.3,936.4 L398.1,938.6 L398.9,940.8 L399.6,942.8 L400.2,944.8 L400.7,946.7 L401.2,948.8 L401.7,950.9 L402.2,953.0 L402.7,955.1 L403.1,957.1 L403.6,959.1 L404.0,961.2 L404.5,963.2 L405.0,965.4 L405.4,967.5 L405.8,969.5 L406.2,971.6 L406.7,973.7 L407.3,975.8 L408.0,977.9 L408.8,980.0 L409.6,981.9 L410.6,983.7 L411.6,985.6 L412.7,987.4 L413.8,989.4 L414.9,991.1 L416.1,992.9 L417.3,994.7 L418.5,996.4 L419.7,998.2 L420.9,1000.2 L422.2,1001.9 L423.5,1003.4 L424.8,1005.0 L426.1,1006.4 L427.6,1007.9 L429.3,1009.6 L431.2,1011.3 L433.2,1012.2 L435.4,1012.5 L437.3,1013.3 L439.4,1014.2 L441.3,1014.7 L443.3,1015.3 L445.2,1015.8 L447.2,1016.3 L449.1,1016.8 L451.0,1017.4 L452.9,1018.2 L454.8,1019.2 L456.9,1019.7 L458.9,1020.1 L460.9,1020.8 L463.0,1021.1 L465.0,1020.7 L467.0,1020.7 L469.2,1021.4 L471.1,1022.3 L473.1,1023.4 L474.9,1024.4 L476.9,1025.4 L478.9,1026.2 L480.8,1026.7 L482.8,1027.1 L484.8,1027.9 L486.7,1028.8 L488.7,1029.2 L490.8,1029.5 L493.0,1030.3 L495.2,1031.0 L497.2,1031.5 L499.0,1032.3 L500.9,1033.1 L502.8,1033.5 L504.7,1034.0 L506.5,1034.7 L508.5,1035.8 L510.6,1036.3 L512.6,1036.0 L514.7,1036.0 L516.7,1036.4 L518.9,1036.6 L520.7,1037.3 L522.4,1038.5 L524.2,1039.7 L526.0,1040.4 L528.2,1040.6 L530.2,1040.8 L532.3,1040.9 L534.3,1040.8 L536.6,1040.4 L538.7,1039.8 L540.9,1040.0 L542.9,1040.9 L545.1,1041.2 L547.2,1041.2 L549.3,1041.3 L551.4,1040.7 L553.3,1039.6 L555.0,1038.6 L556.6,1037.1 L557.8,1035.3 L558.7,1033.4 L559.6,1031.4 L560.4,1029.5 L561.0,1027.3 L561.5,1025.2 L561.9,1023.2 L562.1,1021.2 L562.4,1019.2 L562.6,1017.0 L562.8,1014.9 L563.0,1012.7 L563.2,1010.6 L563.4,1008.3 L563.6,1006.1 L563.8,1003.9 L563.9,1001.8 L564.0,999.6 L564.1,997.5 L564.3,995.5 L564.4,993.3 L564.6,991.1 L564.8,988.9 L564.9,986.7 L565.0,984.6 L565.1,982.6 L565.2,980.6 L565.3,978.5 L565.4,976.5 L565.5,974.4 L565.6,972.2 L565.8,970.0 L565.9,967.8 L566.0,965.6 L566.1,963.4 L566.2,961.3 L566.3,959.1 L566.4,956.8 L566.5,954.8 L566.6,952.7 L566.7,950.7 L566.8,948.6 L566.9,946.6 L567.0,944.5 L567.1,942.5 L567.2,940.2 L567.3,938.2 L567.4,936.1 L567.5,934.1 L567.6,932.0 L567.7,929.9 L567.8,927.9 L567.9,925.8 L568.0,923.8 L568.1,921.6 L568.2,919.4 L568.3,917.3 L568.4,915.1 L568.6,912.9 L568.7,910.7 L568.9,908.6 L569.0,906.5 L569.1,904.5 L569.3,902.3 L569.4,900.3 L569.6,898.1 L569.7,895.9 L569.8,893.9 L569.9,891.8 L570.0,889.7 L570.1,887.5 L570.3,885.4 L570.5,883.2 L570.7,881.2 L571.0,879.1 L572.0,877.3 L572.6,880.0 L572.8,882.1 L572.9,884.1 L573.1,886.1 L573.2,888.3 L573.3,890.5 L573.4,892.5 L573.5,894.8 L573.6,897.0 L573.7,899.2 L573.8,901.3 L573.8,903.5 L573.9,905.6 L574.0,907.8 L574.1,909.8 L574.1,911.9 L574.2,914.0 L574.3,916.2 L574.4,918.3 L574.5,920.5 L574.6,922.5 L574.7,924.5 L574.8,926.6 L574.9,928.7 L575.0,930.8 L575.1,932.9 L575.2,934.9 L575.3,937.2 L575.5,939.3 L575.6,941.4 L575.7,943.4 L575.9,945.7 L576.0,947.8 L576.2,949.9 L576.4,952.1 L576.5,954.2 L576.7,956.3 L576.8,958.3 L576.9,960.5 L577.0,962.5 L577.1,964.7 L577.3,967.0 L577.3,969.0 L577.4,971.1 L577.5,973.2 L577.6,975.2 L577.7,977.3 L577.8,979.4 L577.9,981.4 L578.0,983.6 L578.1,985.8 L578.3,987.9 L578.4,990.0 L578.6,992.1 L578.7,994.2 L578.9,996.2 L579.0,998.2 L579.2,1000.5 L579.4,1002.6 L579.5,1004.7 L579.7,1006.8 L579.8,1009.0 L580.0,1011.2 L580.1,1013.4 L580.3,1015.5 L580.4,1017.5 L580.6,1019.7 L580.8,1021.8 L581.0,1024.0 L581.2,1026.0 L581.4,1028.2 L581.6,1030.3 L582.0,1032.4 L582.4,1034.4 L583.0,1036.4 L583.8,1038.5 L584.8,1040.3 L586.0,1042.0 L587.6,1043.7 L589.4,1044.4 L591.3,1045.1 L593.2,1045.9 L595.3,1045.8 L597.4,1046.1 L599.4,1046.9 L601.6,1047.6 L603.8,1047.5 L606.1,1046.8 L608.1,1046.5 L610.3,1046.4 L612.4,1046.3 L614.4,1046.3 L616.5,1046.0 L618.5,1045.0 L620.7,1044.3 L622.9,1044.0 L625.0,1043.5 L627.0,1043.2 L629.0,1043.0 L631.0,1042.7 L633.1,1042.2 L635.2,1041.7 L637.2,1041.5 L639.4,1041.6 L641.4,1041.9 L643.4,1042.4 L645.5,1042.5 L647.6,1042.2 L649.8,1042.6 L651.9,1043.5 L653.9,1044.1 L656.0,1044.5 L657.9,1045.3 L659.9,1045.8 L662.0,1046.1 L664.0,1046.7 L665.9,1046.9 L668.1,1047.5 L670.1,1048.3 L672.1,1049.1 L674.3,1049.9 L676.5,1050.2 L678.6,1050.5 L680.8,1050.9 L682.8,1051.0 L684.8,1051.2 L686.8,1051.2 L688.8,1051.6 L690.8,1052.6 L692.8,1052.5 L694.8,1051.7 L696.8,1051.7 L698.8,1052.3 L700.9,1052.3 L702.9,1051.7 L704.9,1051.1 L706.9,1050.9 L708.9,1050.7 L710.9,1050.3 L712.9,1050.3 L714.9,1050.4 L716.9,1050.0 L718.9,1049.5 L720.9,1049.4 L722.9,1049.7 L724.9,1049.6 L726.9,1049.1 L728.9,1048.6 L730.9,1048.3 L732.8,1047.7 L734.8,1047.0 L736.8,1046.6 L738.8,1046.0 L740.9,1044.9 L743.0,1043.7 L745.1,1043.0 L747.2,1042.5 L749.2,1042.3 L751.3,1042.4 L753.4,1042.1 L755.5,1041.3 L757.5,1040.4 L759.7,1040.5 L761.8,1041.2 L763.8,1041.5 L765.9,1042.0 L767.8,1042.6 L769.8,1043.2 L771.7,1044.0 L773.6,1045.0 L775.5,1046.1 L777.4,1047.4 L779.3,1048.5 L781.1,1049.0 L783.0,1049.8 L784.7,1050.9 L786.4,1052.1 L788.3,1053.1 L790.2,1053.9 L792.2,1054.4 L794.3,1055.0 L796.3,1055.7 L798.3,1056.2 L800.5,1056.7 L802.6,1057.1 L804.8,1057.1 L806.9,1057.5 L809.1,1057.8 L811.1,1057.7 L813.2,1057.9 L815.2,1058.3 L817.3,1058.9 L819.3,1059.1 L821.3,1058.8 L823.4,1058.6 L825.4,1058.8 L827.4,1059.1 L829.4,1059.4 L831.4,1060.2 L833.4,1060.9 L835.4,1060.7 L837.4,1060.5 L839.4,1060.7 L841.4,1061.0 L843.4,1061.6 L845.4,1061.6 L847.4,1061.1 L849.4,1061.2 L851.4,1062.0 L853.4,1062.5 L855.4,1062.1 L857.5,1062.0 L859.5,1061.8 L861.5,1060.9 L863.5,1060.6 L865.5,1061.1 L867.5,1060.6 L869.5,1060.0 L871.5,1060.4 L873.5,1060.7 L875.5,1060.0 L877.5,1059.2 L879.6,1058.5 L881.6,1058.5 L883.6,1059.0 L885.6,1058.9 L887.9,1058.4 L890.0,1057.3 L892.2,1056.5 L894.3,1056.1 L896.3,1055.8 L898.3,1055.2 L900.2,1054.8 L902.4,1054.4 L904.4,1053.6 L906.5,1052.6 L908.4,1052.2 L910.3,1052.0 L912.4,1050.9 L914.4,1049.8 L916.4,1049.0 L918.2,1048.0 L920.0,1046.8 L921.8,1045.8 L923.6,1044.9 L925.4,1044.4 L927.2,1043.9 L929.0,1043.1 L930.9,1042.2 L932.9,1040.9 L934.9,1040.0 L936.9,1040.0 L939.0,1039.8 L941.0,1039.5 L943.2,1039.4 L945.3,1039.9 L947.3,1040.7 L949.2,1041.4 L951.0,1041.9 L952.8,1042.9 L954.5,1044.1 L956.3,1044.6 L958.1,1045.3 L960.0,1046.5 L961.7,1047.8 L963.4,1049.4 L965.1,1050.7 L966.8,1051.7 L968.5,1052.9 L969.9,1054.2 L971.4,1055.7 L972.9,1057.1 L974.6,1058.6 L976.2,1059.9 L978.1,1060.9 L979.8,1061.9 L981.5,1063.1 L983.3,1063.9 L985.1,1064.8 L986.8,1065.9 L988.6,1066.9 L990.4,1067.8 L992.2,1068.9 L994.0,1070.1 L995.8,1071.2 L997.9,1072.3 L999.9,1073.3 L1001.8,1074.0 L1003.8,1074.6 L1005.7,1075.0 L1007.6,1075.5 L1009.8,1076.3 L1012.0,1077.1 L1013.9,1077.6 L1016.0,1077.8 L1018.0,1077.6 L1020.0,1077.7 L1022.2,1078.1 L1024.4,1078.1 L1026.5,1078.0 L1028.5,1078.3 L1030.5,1078.9 L1032.6,1080.0 L1034.6,1080.7 L1035.7,1081.0" fill="none" stroke="#000" stroke-width="7.4" stroke-linejoin="round"/>
<path d="M86.6,304.3 L86.8,302.5 L87.0,300.7 L87.2,298.9 L87.5,296.9 L87.7,294.9 L87.9,292.8 L88.2,290.8 L88.4,288.9 L88.6,287.0 L88.8,285.1 L89.0,283.2 L89.2,281.2 L89.3,279.3 L89.5,277.4 L89.7,275.5 L89.9,273.5 L90.1,271.5 L90.3,269.5 L90.5,267.5 L90.8,265.5 L91.0,263.5 L91.2,261.5 L91.5,259.5 L91.7,257.5 L91.9,255.5 L92.2,253.5 L92.4,251.5 L92.7,249.5 L92.9,247.5 L93.2,245.5 L93.5,243.5 L93.7,241.5 L94.0,239.5 L94.2,237.4 L94.5,235.4 L94.8,233.4 L95.0,231.4 L95.3,229.4 L95.5,227.4 L95.8,225.4 L96.0,223.4 L96.3,221.3 L96.6,219.3 L96.9,217.3 L97.2,215.3 L97.5,213.3 L97.8,211.3 L98.1,209.3 L98.5,207.4 L99.0,205.7 L99.5,203.8 L100.0,202.0 L100.5,200.2 L101.2,198.3 L101.9,196.4 L102.8,194.6 L103.7,192.7 L104.8,191.1 L106.1,190.1 L107.8,189.4 L109.1,190.6 L109.8,192.4 L110.5,194.2 L111.0,196.0 L111.5,197.8 L112.0,199.8 L112.5,201.7 L112.8,203.6 L113.2,205.6 L113.4,207.4 L113.6,209.3 L113.9,211.1 L114.1,213.1 L114.4,215.1 L114.7,216.9 L115.1,218.9 L115.4,220.9 L115.8,222.9 L116.1,224.8 L116.4,226.8 L116.7,228.8 L117.0,230.8 L117.3,232.8 L117.5,234.8 L117.8,236.7 L118.0,238.7 L118.3,240.8 L118.5,242.7 L118.7,244.7 L119.0,246.7 L119.2,248.7 L119.4,250.7 L119.6,252.7 L119.9,254.7 L120.0,256.7 L120.2,258.7 L120.4,260.7 L120.6,262.7 L120.8,264.7 L120.9,266.7 L121.1,268.7 L121.2,270.7 L121.4,272.7 L121.5,274.7 L121.7,276.7 L121.8,278.7 L122.0,280.5 L122.2,282.5 L122.4,284.5 L122.7,286.5 L122.9,288.5 L123.2,290.6 L123.4,292.6 L123.6,294.6 L123.8,296.4 L124.0,298.4 L124.2,300.4 L124.4,302.4 L124.6,304.4 L124.8,306.4 L125.0,308.4 L125.2,310.4 L125.5,312.4 L125.7,314.5 L125.9,316.5 L126.1,318.5 L126.4,320.5 L126.5,322.5 L126.7,324.5 L126.9,326.5 L127.1,328.5 L127.2,330.5 L127.4,332.5 L127.5,334.5 L127.7,336.5 L127.9,338.5 L128.0,340.5 L128.2,342.6 L128.4,344.6 L128.5,346.6 L128.7,348.6 L128.9,350.7 L129.0,352.7 L129.2,354.7 L129.4,356.7 L129.5,358.7 L129.7,360.5 L129.8,362.6 L130.0,364.6 L130.2,366.6 L130.3,368.7 L130.5,370.7 L130.7,372.7 L130.8,374.8 L131.0,376.6 L131.1,378.6 L131.3,380.6 L131.5,382.7 L131.6,384.7 L131.8,386.7 L132.0,388.7 L132.2,390.7 L132.3,392.7 L132.5,394.8 L132.7,396.8 L132.8,398.8 L133.0,400.8 L133.2,402.8 L133.3,404.8 L133.5,406.9 L133.6,408.9 L133.8,410.9 L133.9,413.0 L134.1,415.0 L134.3,417.0 L134.5,419.0 L134.6,421.0 L134.8,423.0 L135.0,425.0 L135.2,427.0 L135.3,429.0 L135.3,431.0 L135.4,433.1 L135.4,435.1 L135.5,437.1 L135.5,439.1 L135.6,441.1 L135.7,443.2 L135.8,445.2 L135.9,447.2 L136.0,449.2 L136.2,451.2 L136.3,453.2 L136.5,455.2 L136.7,457.2 L137.0,459.2 L137.2,461.2 L137.5,463.3 L137.7,465.2 L138.0,467.2 L138.2,469.3 L138.3,471.3 L138.5,473.3 L138.7,475.3 L138.8,477.3 L139.0,479.3 L139.1,481.3 L139.3,483.3 L139.5,485.3 L139.7,487.3 L139.9,489.3 L140.1,491.3 L140.2,493.2 L140.4,495.2 L140.5,497.3 L140.6,499.3 L140.7,501.3 L140.8,503.3 L141.0,505.3 L141.1,507.3 L141.3,509.3 L141.4,511.3 L141.6,513.3 L141.8,515.3 L141.9,517.3 L142.2,519.4 L142.4,521.4 L142.7,523.3 L143.0,525.4 L143.3,527.4 L143.6,529.4 L143.9,531.4 L144.1,533.4 L144.4,535.4 L144.5,537.4 L144.7,539.4 L144.9,541.4 L145.0,543.4 L145.2,545.4 L145.3,547.5 L145.5,549.5 L145.7,551.5 L145.9,553.5 L146.1,555.5 L146.3,557.5 L146.5,559.5 L146.7,561.5 L146.9,563.5 L147.1,565.5 L147.2,567.5 L147.4,569.5 L147.6,571.5 L147.8,573.5 L148.0,575.6 L148.1,577.6 L148.3,579.6 L148.4,581.7 L148.6,583.7 L148.8,585.7 L149.0,587.8 L149.2,589.8 L149.3,591.8 L149.5,593.8 L149.7,595.8 L149.9,597.8 L150.1,599.8 L150.4,601.8 L150.6,603.8 L150.8,605.8 L151.0,607.8 L151.2,609.8 L151.5,611.8 L151.7,613.8 L152.0,615.8 L152.2,617.8 L152.5,619.9 L152.7,621.9 L153.0,623.9 L153.3,625.9 L153.6,627.8 L154.0,629.9 L154.4,631.9 L154.7,633.9 L155.1,635.8 L155.5,637.8 L155.8,639.8 L156.1,641.8 L156.3,643.8 L156.6,645.8 L156.8,647.8 L156.9,649.8 L157.1,651.8 L157.3,653.8 L157.5,655.8 L157.6,657.9 L157.8,659.9 L157.9,661.9 L158.1,663.9 L158.3,665.9 L158.5,667.9 L158.8,669.9 L159.0,671.9 L159.3,673.9 L159.6,675.9 L159.9,677.9 L160.2,679.9 L160.5,681.9 L160.8,683.9 L161.1,686.0 L161.4,688.0 L161.6,690.0 L161.9,692.0 L162.2,694.0 L162.4,696.0 L162.7,698.0 L162.9,700.0 L163.2,702.0 L163.4,704.0 L163.7,705.8 L164.0,707.8 L164.3,709.8 L164.6,711.8 L164.9,713.8 L165.2,715.9 L165.5,717.9 L165.8,719.8 L166.1,721.8 L166.4,723.9 L166.7,725.9 L167.0,727.9 L167.3,729.9 L167.6,731.9 L167.9,733.9 L168.2,735.9 L168.5,737.9 L168.9,739.9 L169.2,741.9 L169.5,743.9 L169.9,745.9 L170.2,747.9 L170.5,749.8 L170.9,751.8 L171.2,753.7 L171.6,755.7 L171.9,757.7 L172.3,759.7 L172.7,761.6 L173.1,763.6 L173.5,765.6 L174.0,767.6 L174.4,769.6 L174.8,771.6 L175.3,773.5 L175.7,775.5 L176.1,777.4 L176.6,779.5 L177.0,781.4 L177.5,783.4 L177.9,785.3 L178.4,787.3 L178.9,789.3 L179.4,791.2 L179.9,793.1 L180.4,795.1 L180.9,797.1 L181.4,799.0 L182.0,801.0 L182.5,802.9 L183.1,804.8 L183.6,806.7 L184.2,808.6 L184.8,810.5 L185.4,812.5 L186.0,814.5 L186.6,816.3 L187.2,818.2 L187.8,820.1 L188.5,822.0 L189.3,823.9 L190.1,825.7 L190.9,827.5 L191.6,829.2 L192.5,830.7 L193.4,832.4 L194.5,834.1 L195.7,835.9 L196.9,837.4 L198.2,838.2 L199.8,839.2 L201.6,840.7 L203.3,841.9 L205.1,842.1 L207.1,841.4 L208.9,840.9 L210.8,841.1 L212.7,841.2 L214.5,841.1 L216.5,840.9 L218.3,840.8 L220.2,840.7 L222.1,840.2 L224.0,839.5 L225.8,838.1 L227.8,837.4 L229.6,837.3 L231.5,836.8 L233.4,836.4 L235.2,835.2 L236.8,833.7 L238.3,832.9 L239.9,832.0 L241.4,830.9 L243.0,829.5 L244.6,828.2 L246.0,827.3 L247.5,826.2 L249.0,824.9 L250.3,823.5 L251.8,822.2 L253.1,820.9 L254.3,819.3 L255.6,817.6 L256.8,816.3 L258.0,814.8 L259.1,813.0 L260.1,811.4 L261.0,809.6 L261.8,808.2 L262.6,806.4 L263.4,804.7 L264.5,802.9 L266.3,802.0 L267.6,803.8 L268.8,805.9 L269.8,807.8 L270.9,809.5 L272.1,811.0 L273.3,812.3 L274.3,813.7 L275.3,815.3 L276.4,816.9 L277.4,818.6 L278.3,820.2 L279.2,822.0 L280.1,823.8 L281.0,825.6 L281.8,827.3 L282.6,829.3 L283.4,831.2 L284.2,832.9 L285.0,834.8 L285.6,836.5 L286.3,838.3 L286.9,839.9 L287.8,841.6 L288.7,843.1 L289.8,844.5 L291.1,845.7 L292.5,846.9 L294.1,847.7 L295.8,848.7 L297.4,850.3 L299.1,851.6 L300.8,852.4 L302.5,852.9 L304.3,853.9 L306.0,854.6 L307.6,855.2 L309.4,856.3 L311.2,857.0 L313.0,857.4 L314.6,858.5 L316.3,859.8 L318.1,860.4 L319.8,861.2 L321.6,862.3 L323.4,863.3 L325.2,864.1 L326.9,864.5 L328.7,865.5 L330.4,866.6 L332.2,867.4 L333.9,867.8 L335.8,868.2 L337.7,869.1 L339.7,869.6 L341.6,869.0 L343.5,868.5 L345.4,867.8 L347.3,866.5 L348.9,865.7 L350.5,865.2 L352.1,864.0 L353.9,862.9 L355.9,863.0 L357.9,863.3 L359.7,863.5 L361.5,863.5 L363.2,863.9 L364.6,865.1 L365.8,866.7 L367.1,868.4 L368.2,869.9 L369.3,871.4 L370.4,872.7 L371.5,874.2 L372.7,876.0 L373.9,877.5 L375.0,878.9 L376.1,880.3 L377.2,881.7 L378.4,883.4 L379.5,885.0 L380.7,886.8 L381.8,888.5 L382.9,890.3 L384.0,891.8 L385.3,893.0 L386.8,894.0 L388.5,895.2 L390.1,896.6 L391.7,897.4 L393.3,897.5 L395.0,897.9 L396.6,899.1 L398.3,900.9 L399.9,902.2 L401.6,903.0 L403.2,904.1 L404.9,905.4 L406.7,906.6 L408.4,907.1 L410.0,907.4 L411.8,908.1 L413.8,908.3 L415.7,908.5 L417.7,909.4 L419.6,909.9 L421.6,910.1 L423.4,910.7 L425.3,911.6 L427.1,912.3 L429.0,913.0 L430.8,913.9 L432.5,914.8 L434.2,915.8 L435.9,916.9 L437.6,917.9 L439.5,918.7 L441.3,919.0 L443.0,919.5 L444.8,920.1 L446.6,920.4 L448.4,920.9 L450.1,921.9 L451.9,923.1 L453.5,923.7 L455.1,924.4 L456.8,925.6 L458.6,926.9 L460.4,928.0 L462.2,928.9 L464.0,929.6 L465.8,930.4 L467.6,931.8 L469.5,932.6 L471.4,932.6 L473.3,933.2 L475.2,933.9 L476.9,934.7 L478.5,936.2 L480.1,937.7 L481.5,938.6 L482.8,939.6 L484.2,940.9 L485.8,942.4 L487.5,943.3 L489.0,944.2 L490.7,945.5 L492.4,946.6 L494.2,947.7 L495.9,948.5 L497.7,949.2 L499.4,950.0 L501.2,951.0 L503.0,951.7 L504.7,952.5 L506.5,953.7 L508.3,954.4 L509.9,955.3 L511.6,956.4 L513.2,956.9 L514.8,957.5 L516.6,958.8 L518.2,959.9 L519.7,960.5 L521.4,961.9 L523.1,963.1 L524.8,963.9 L526.4,964.8 L528.2,965.9 L529.9,967.0 L531.7,967.7 L533.4,967.8 L535.3,967.9 L537.2,968.7 L539.0,969.6 L540.8,969.6 L542.8,969.4 L544.7,969.5 L546.6,969.0 L548.4,968.3 L549.9,967.4 L551.3,966.2 L552.5,964.8 L553.6,963.3 L554.5,961.6 L555.2,959.9 L555.7,957.9 L556.1,956.1 L556.4,954.3 L556.6,952.4 L556.9,950.6 L557.1,948.8 L557.4,946.8 L557.7,944.8 L557.9,942.8 L558.2,940.8 L558.4,938.8 L558.6,936.8 L558.8,934.7 L559.0,932.7 L559.1,930.8 L559.3,928.8 L559.5,926.8 L559.6,924.8 L559.7,922.8 L559.9,920.8 L560.0,918.9 L560.1,917.0 L560.2,915.0 L560.3,913.1 L560.4,911.0 L560.5,909.1 L560.7,907.1 L560.9,905.3 L561.1,903.5 L561.3,901.6 L561.5,899.7 L561.7,897.7 L561.9,895.9 L562.1,894.0 L562.2,892.0 L562.3,890.0 L562.4,888.2 L562.4,886.3 L562.4,884.5 L562.4,882.6 L562.4,880.6 L562.3,878.7 L562.3,876.7 L562.3,874.8 L562.3,873.0 L562.3,871.0 L562.3,869.2 L562.3,867.2 L562.3,865.0 L562.3,863.0 L562.3,861.2 L562.4,859.2 L562.4,857.4 L562.4,855.4 L562.4,853.5 L562.5,851.5 L562.5,849.6 L562.5,847.7 L562.5,845.8 L562.6,843.8 L562.6,841.8 L562.6,839.8 L562.6,837.8 L562.7,835.9 L562.7,834.1 L562.7,832.2 L562.7,830.4 L562.8,828.5 L562.8,826.5 L562.8,824.6 L562.9,822.7 L562.9,820.8 L562.9,818.8 L562.9,816.8 L563.0,814.9 L563.0,812.9 L563.0,810.9 L563.1,809.0 L563.1,807.0 L563.1,805.0 L563.2,803.1 L563.2,801.1 L563.2,799.1 L563.2,797.3 L563.3,795.4 L563.3,793.5 L563.3,791.7 L563.4,789.8 L563.4,787.9 L563.4,785.9 L563.4,784.0 L563.5,782.0 L563.5,780.1 L563.5,778.1 L563.6,776.1 L563.6,774.1 L563.6,772.1 L563.7,770.1 L563.7,768.1 L563.7,766.0 L563.8,764.0 L563.8,762.0 L563.8,759.9 L563.9,757.9 L563.9,755.8 L563.9,754.0 L564.0,752.2 L564.0,750.4 L564.0,748.6 L564.0,746.8 L564.1,745.0 L564.1,743.2 L564.1,741.4 L564.2,739.6 L564.2,737.5 L564.2,735.5 L564.3,733.4 L564.3,731.4 L564.3,729.3 L564.4,727.3 L564.4,725.3 L564.4,723.3 L564.5,721.3 L564.5,719.2 L564.5,717.2 L564.6,715.2 L564.6,713.2 L564.7,711.1 L564.7,709.3 L564.7,707.5 L564.8,705.7 L564.8,703.9 L564.8,702.0 L564.9,700.2 L564.9,698.4 L564.9,696.5 L565.0,694.7 L565.0,692.8 L565.0,691.0 L565.1,689.2 L565.1,687.3 L565.1,685.5 L565.2,683.7 L565.2,681.8 L565.2,680.0 L565.3,678.2 L565.3,676.4 L565.3,674.6 L565.4,672.8 L565.4,670.7 L565.4,668.7 L565.5,666.7 L565.5,664.6 L565.5,662.7 L565.6,660.7 L565.6,658.7 L565.7,656.8 L565.7,654.9 L565.7,653.0 L565.8,651.1 L565.8,649.3 L565.8,647.4 L565.9,645.4 L565.9,643.4 L566.0,641.5 L566.0,639.4 L566.1,637.6 L566.1,635.7 L566.1,633.7 L566.2,631.6 L566.2,629.5 L566.3,627.5 L566.3,625.5 L566.3,623.5 L566.4,621.5 L566.4,619.6 L566.5,617.7 L566.5,615.8 L566.6,614.0 L566.6,612.1 L566.6,610.3 L566.7,608.3 L566.7,606.3 L566.8,604.4 L566.8,602.4 L566.9,600.6 L566.9,598.7 L567.0,596.7 L567.0,594.7 L567.1,592.8 L567.1,591.0 L567.2,589.2 L567.2,587.2 L567.3,585.4 L567.4,583.4 L567.4,581.6 L567.5,579.4 L567.6,577.5 L567.6,575.6 L567.7,573.6 L567.8,571.7 L567.9,569.7 L568.0,567.9 L568.1,566.0 L568.3,564.1 L568.4,562.1 L568.6,560.3 L568.8,558.4 L569.1,556.3 L569.5,554.5 L570.8,552.6 L571.5,554.9 L571.9,557.2 L572.1,559.0 L572.3,560.9 L572.5,562.8 L572.6,564.7 L572.8,566.6 L572.9,568.4 L573.0,570.4 L573.1,572.4 L573.2,574.4 L573.3,576.3 L573.4,578.4 L573.4,580.2 L573.5,582.1 L573.6,584.2 L573.6,586.1 L573.7,588.0 L573.8,589.9 L573.8,591.8 L573.9,593.7 L573.9,595.7 L574.0,597.5 L574.0,599.4 L574.1,601.3 L574.1,603.3 L574.1,605.2 L574.2,607.3 L574.2,609.3 L574.3,611.1 L574.3,613.0 L574.4,614.8 L574.4,616.7 L574.4,618.6 L574.5,620.5 L574.5,622.4 L574.5,624.3 L574.6,626.2 L574.6,628.1 L574.7,630.0 L574.7,632.0 L574.7,633.9 L574.8,635.8 L574.8,637.7 L574.8,639.6 L574.9,641.5 L574.9,643.4 L574.9,645.3 L575.0,647.1 L575.0,649.0 L575.0,651.0 L575.0,652.9 L575.1,654.8 L575.1,656.8 L575.1,658.7 L575.1,660.6 L575.2,662.6 L575.2,664.5 L575.2,666.4 L575.2,668.4 L575.2,670.3 L575.3,672.3 L575.3,674.2 L575.3,676.2 L575.3,678.1 L575.3,680.1 L575.4,682.1 L575.4,684.1 L575.4,686.0 L575.4,688.0 L575.4,690.0 L575.4,692.0 L575.4,694.1 L575.5,696.1 L575.5,698.1 L575.5,700.1 L575.5,702.2 L575.5,704.2 L575.6,706.1 L575.6,707.9 L575.6,709.7 L575.6,711.5 L575.6,713.4 L575.6,715.2 L575.7,717.1 L575.7,718.9 L575.7,720.9 L575.7,722.8 L575.8,724.8 L575.8,726.7 L575.8,728.6 L575.8,730.6 L575.9,732.6 L575.9,734.6 L575.9,736.6 L575.9,738.6 L576.0,740.7 L576.0,742.7 L576.0,744.8 L576.1,746.6 L576.1,748.4 L576.1,750.2 L576.1,752.0 L576.2,753.8 L576.2,755.6 L576.2,757.5 L576.2,759.3 L576.3,761.1 L576.3,762.9 L576.3,764.7 L576.3,766.5 L576.4,768.3 L576.4,770.1 L576.4,772.2 L576.5,774.2 L576.5,776.3 L576.5,778.3 L576.5,780.3 L576.6,782.3 L576.6,784.3 L576.6,786.3 L576.6,788.2 L576.7,790.2 L576.7,792.1 L576.7,794.0 L576.7,795.9 L576.8,797.7 L576.8,799.5 L576.8,801.4 L576.8,803.3 L576.9,805.3 L576.9,807.2 L576.9,809.1 L576.9,811.0 L576.9,812.9 L576.9,814.7 L577.0,816.6 L577.0,818.4 L577.0,820.3 L577.0,822.1 L577.0,823.9 L577.0,825.7 L577.0,827.8 L577.0,829.8 L577.0,831.9 L577.1,833.9 L577.1,835.9 L577.1,837.9 L577.1,839.8 L577.1,841.8 L577.1,843.7 L577.2,845.6 L577.2,847.6 L577.2,849.4 L577.2,851.3 L577.3,853.2 L577.3,855.1 L577.3,856.9 L577.3,858.7 L577.4,860.5 L577.4,862.6 L577.5,864.6 L577.5,866.4 L577.6,868.5 L577.7,870.5 L577.8,872.5 L577.8,874.5 L577.9,876.5 L578.0,878.5 L578.1,880.5 L578.2,882.5 L578.3,884.4 L578.4,886.4 L578.5,888.3 L578.6,890.2 L578.7,892.1 L578.8,893.9 L578.9,895.7 L579.0,897.7 L579.1,899.7 L579.3,901.6 L579.4,903.5 L579.5,905.3 L579.6,907.3 L579.7,909.1 L579.8,911.1 L579.9,913.0 L580.0,914.8 L580.1,917.0 L580.2,919.1 L580.3,921.2 L580.3,923.1 L580.4,925.0 L580.4,926.9 L580.5,928.9 L580.5,930.8 L580.6,932.8 L580.7,934.8 L580.8,936.9 L581.0,938.9 L581.1,940.9 L581.2,942.9 L581.3,944.8 L581.4,946.6 L581.5,948.6 L581.6,950.6 L581.7,952.5 L581.8,954.5 L581.9,956.5 L582.2,958.5 L582.3,960.5 L582.4,962.4 L582.6,964.3 L582.8,966.2 L583.1,968.0 L583.5,969.9 L584.1,971.5 L585.1,973.1 L586.4,974.9 L587.9,976.3 L589.5,977.7 L591.1,978.8 L592.7,979.5 L594.5,980.1 L596.4,980.8 L598.2,981.9 L600.0,982.3 L601.8,981.7 L603.6,981.5 L605.6,981.8 L607.6,982.0 L609.7,982.4 L611.5,982.4 L613.3,981.8 L615.2,981.3 L617.1,980.2 L618.9,979.3 L620.6,978.7 L622.3,977.7 L623.7,976.6 L625.3,975.0 L626.9,973.6 L628.6,972.6 L630.1,971.1 L631.6,969.7 L633.1,969.2 L634.9,968.6 L636.7,967.7 L638.7,967.9 L640.7,968.5 L642.6,968.8 L644.3,969.1 L646.0,969.4 L647.8,970.7 L649.4,972.2 L651.3,973.0 L653.0,973.4 L654.6,974.1 L656.3,975.3 L657.9,976.5 L659.5,977.6 L661.1,979.0 L662.7,980.3 L664.2,980.8 L665.8,981.6 L667.3,983.3 L669.1,984.8 L670.8,985.4 L672.6,985.9 L674.2,987.1 L675.8,988.6 L677.5,989.1 L679.4,989.4 L681.3,990.7 L683.2,991.3 L685.1,991.2 L687.1,991.6 L689.1,991.5 L691.1,991.4 L693.1,992.5 L695.1,993.6 L697.1,993.2 L699.1,992.6 L701.1,992.6 L703.1,992.5 L705.1,992.6 L707.2,992.7 L709.2,992.6 L711.2,992.6 L713.2,992.7 L715.2,993.1 L717.1,993.4 L719.1,993.6 L721.1,993.9 L723.1,993.8 L725.1,993.7 L727.1,994.7 L729.0,995.5 L731.1,995.4 L732.8,995.5 L734.9,995.9 L736.9,995.7 L738.8,995.8 L740.8,995.9 L742.8,995.6 L744.8,995.5 L746.8,995.4 L748.8,995.1 L750.8,995.2 L752.7,995.6 L754.7,996.2 L756.7,996.4 L758.8,996.3 L760.8,996.3 L762.8,996.1 L764.8,996.2 L766.7,996.6 L768.7,996.8 L770.7,997.2 L772.5,997.9 L774.5,998.0 L776.5,997.9 L778.5,998.8 L780.3,999.4 L782.3,999.3 L784.3,999.4 L786.3,999.8 L788.2,1000.5 L790.0,1001.4 L791.9,1001.9 L793.6,1001.7 L795.5,1001.5 L797.6,1001.6 L799.6,1001.5 L801.5,1001.7 L803.5,1002.1 L805.4,1002.0 L807.4,1001.7 L809.4,1001.7 L811.2,1001.2 L813.1,1001.0 L815.0,1001.4 L816.9,1001.4 L818.9,1001.7 L820.9,1002.4 L822.7,1002.7 L824.7,1003.4 L826.7,1004.1 L828.6,1003.9 L830.5,1003.6 L832.5,1004.3 L834.5,1005.3 L836.5,1005.0 L838.5,1004.3 L840.5,1004.2 L842.5,1004.5 L844.6,1004.0 L846.3,1002.9 L848.2,1002.6 L850.0,1002.5 L851.8,1002.3 L853.8,1002.7 L855.8,1002.7 L857.8,1002.2 L859.7,1002.7 L861.6,1003.1 L863.6,1002.3 L865.5,1001.6 L867.5,1001.7 L869.4,1001.6 L871.3,1001.0 L873.2,1000.9 L875.0,1000.3 L876.8,999.3 L878.6,998.6 L880.5,998.0 L882.2,997.6 L884.0,996.7 L885.6,995.9 L887.5,995.5 L889.3,994.7 L890.9,993.7 L892.6,993.0 L894.3,992.0 L895.9,990.9 L897.5,989.8 L899.2,988.3 L900.7,986.7 L902.3,985.3 L903.7,984.6 L905.1,983.9 L906.4,982.5 L907.8,980.7 L909.2,979.4 L910.5,977.9 L911.7,976.3 L912.9,975.0 L914.0,973.6 L915.2,971.8 L916.2,970.2 L917.2,968.6 L918.3,966.8 L919.2,965.1 L920.1,963.4 L921.1,961.8 L922.1,960.3 L923.1,958.7 L924.0,957.0 L924.8,955.2 L925.8,953.5 L926.8,951.6 L927.7,949.7 L928.7,948.0 L929.8,946.4 L930.8,944.9 L931.8,943.3 L932.8,941.8 L933.9,940.2 L935.1,938.5 L936.4,937.4 L938.0,936.0 L939.7,934.8 L941.4,934.4 L943.4,934.2 L945.4,934.3 L947.0,935.1 L948.3,936.5 L949.7,938.2 L950.9,939.4 L952.1,940.9 L953.2,942.8 L954.2,944.4 L955.2,946.1 L956.2,948.0 L957.1,949.8 L957.9,951.6 L958.8,953.5 L959.6,955.3 L960.5,957.0 L961.4,958.8 L962.2,960.6 L963.0,962.2 L963.9,964.1 L964.8,965.9 L965.7,967.7 L966.6,969.4 L967.5,971.1 L968.5,972.9 L969.5,974.5 L970.5,976.0 L971.5,977.6 L972.3,979.3 L973.3,981.3 L974.2,982.9 L975.1,984.7 L976.0,986.6 L976.9,988.5 L977.8,990.5 L978.7,992.2 L979.5,993.6 L980.4,995.2 L981.3,997.1 L982.3,998.9 L983.3,1000.8 L984.3,1002.5 L985.4,1004.0 L986.4,1005.7 L987.5,1007.8 L988.6,1009.5 L989.7,1010.9 L990.9,1012.5 L992.0,1014.3 L993.3,1015.7 L994.5,1017.0 L995.9,1018.8 L997.3,1020.2 L998.7,1021.2 L1000.3,1022.6 L1001.9,1024.0 L1003.6,1024.9 L1005.3,1026.0 L1007.1,1027.2 L1008.9,1027.5 L1010.6,1028.0 L1012.2,1029.0 L1014.0,1029.6 L1015.9,1030.4 L1017.6,1031.5 L1019.3,1032.7 L1021.2,1033.6 L1023.1,1033.7 L1024.9,1034.2 L1026.7,1035.4 L1028.6,1036.2 L1030.4,1036.7 L1032.0,1037.9 L1033.7,1039.2 L1034.4,1039.5" fill="none" stroke="#ee0008" stroke-width="7" stroke-dasharray="6.8 6.45" stroke-linejoin="round"/>
</svg>
</body></html>
